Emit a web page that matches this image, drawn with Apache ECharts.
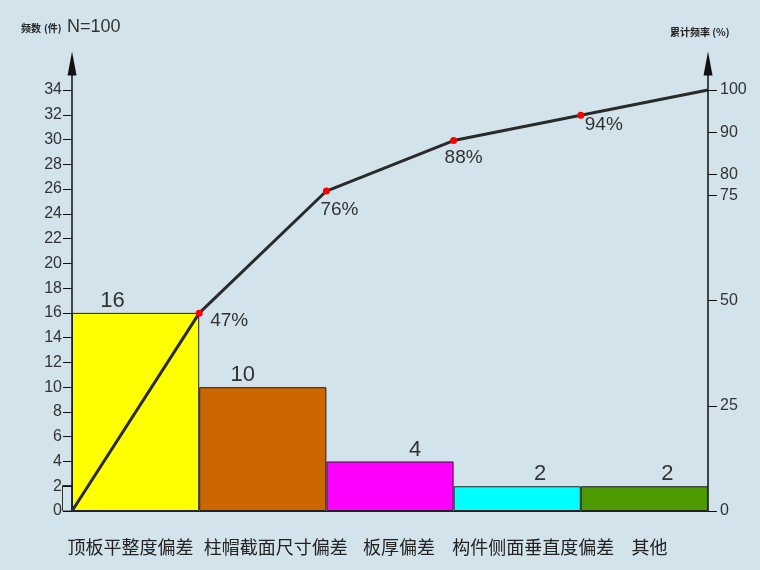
<!DOCTYPE html>
<html>
<head>
<meta charset="utf-8">
<script src="https://cdn.jsdelivr.net/npm/echarts@6/dist/echarts.min.js"></script>
<style>html,body{margin:0;padding:0;background:#D2E3EC;}#c{width:760px;height:570px;}</style>
</head>
<body>
<div id="c"></div>
<script>
// ---- data ----
const categories = ['顶板平整度偏差', '柱帽截面尺寸偏差', '板厚偏差', '构件侧面垂直度偏差', '其他'];
const counts = [16, 10, 4, 2, 2];
const cumulativePct = [47, 76, 88, 94, 100];
const leftTicks = [0, 2, 4, 6, 8, 10, 12, 14, 16, 18, 20, 22, 24, 26, 28, 30, 32, 34];
const rightTicks = [0, 25, 50, 75, 80, 90, 100];

// ---- styles ----
const barColors = ['#FFFF00', '#CC6600', '#FF00FF', '#00FFFF', '#4C9A00'];
const barLabelOffsets = [[-23, 0], [-20, 0], [25, 0], [23, 0], [23, 0]];
const pctLabelOffsets = [[30, 8], [13, 19], [10, 17], [23, 10], [0, 0]];
// padding [top, right, bottom, left] used to nudge each category label horizontally
const catLabelPadding = [[0, 10, 0, 0], [0, 0, 0, 26], [0, 0, 0, 18], [0, 0, 0, 32], [0, 0, 0, 10]];
const NUM_FONT = '"Liberation Sans", sans-serif';
const CJK_FONT = '"Noto Sans CJK SC", sans-serif';

const chart = echarts.init(document.getElementById('c'), null, {renderer: 'canvas'});

const barData = counts.map((v, i) => ({
  value: v,
  itemStyle: {color: barColors[i]},
  label: {offset: barLabelOffsets[i]}
}));

const lineData = [{value: [0, 0], symbolSize: 0, label: {show: false}}].concat(
  cumulativePct.map((p, i) => ({
    value: [i + 1, p],
    symbolSize: i === cumulativePct.length - 1 ? 0 : 7,
    label: {show: i !== cumulativePct.length - 1, offset: pctLabelOffsets[i]}
  }))
);

const catRich = {};
catLabelPadding.forEach((pad, i) => {
  catRich['r' + i] = {fontSize: 18, color: '#222', fontFamily: CJK_FONT, padding: pad};
});

const option = {
  backgroundColor: '#D2E3EC',
  animation: false,
  grid: {left: 72, right: 52, top: 63.5, bottom: 59},
  xAxis: [
    {
      type: 'category',
      data: categories,
      boundaryGap: true,
      axisLine: {lineStyle: {color: '#222', width: 1}},
      axisTick: {show: false},
      axisLabel: {
        interval: 0, margin: 27, fontSize: 18, color: '#222', fontFamily: CJK_FONT,
        formatter: (v, i) => '{r' + i + '|' + v + '}',
        rich: catRich
      }
    },
    {
      type: 'value', min: 0, max: 5, show: false
    }
  ],
  yAxis: [
    {
      type: 'value',
      min: 0,
      max: 34 * 447.5 / 421,
      interval: 2,
      splitLine: {show: false},
      axisLine: {show: true, lineStyle: {color: '#111', width: 1.5}, symbol: ['none', 'triangle'], symbolSize: [9, 24]},
      axisTick: {show: true, length: 9, lineStyle: {color: '#111'}, customValues: leftTicks},
      axisLabel: {margin: 10, fontSize: 16, color: '#333', fontFamily: NUM_FONT, customValues: leftTicks}
    },
    {
      type: 'value',
      position: 'right',
      min: 0,
      max: 100 * 447.5 / 421,
      splitLine: {show: false},
      axisLine: {show: true, lineStyle: {color: '#111', width: 1.5}, symbol: ['none', 'triangle'], symbolSize: [9, 24]},
      axisTick: {show: true, length: 9, lineStyle: {color: '#111'}, customValues: rightTicks},
      axisLabel: {margin: 12, fontSize: 16, color: '#333', fontFamily: NUM_FONT, customValues: rightTicks}
    }
  ],
  series: [
    {
      type: 'bar',
      xAxisIndex: 0,
      yAxisIndex: 0,
      data: barData,
      barWidth: '100%',
      itemStyle: {borderColor: '#222', borderWidth: 1},
      label: {show: true, position: 'top', distance: 1, fontSize: 22, color: '#333', fontFamily: NUM_FONT}
    },
    {
      type: 'line',
      xAxisIndex: 1,
      yAxisIndex: 1,
      data: lineData,
      z: 5,
      symbol: 'circle',
      itemStyle: {color: '#FF0000'},
      lineStyle: {color: '#2a2a2a', width: 3},
      label: {
        show: true, position: 'inside', align: 'center', verticalAlign: 'middle',
        formatter: p => p.value[1] + '%',
        fontSize: 19, color: '#333', fontFamily: NUM_FONT
      }
    }
  ],
  graphic: [
    {type: 'rect', shape: {x: 62.5, y: 485.5, width: 9.5, height: 25.5}, style: {fill: 'none', stroke: '#333', lineWidth: 1}},
    {type: 'text', x: 21, y: 28, style: {text: '频数', fontSize: 10, fontWeight: 'bold', fill: '#222', fontFamily: CJK_FONT, verticalAlign: 'middle'}},
    {type: 'text', x: 44, y: 28, style: {text: '(件)', fontSize: 10, fontWeight: 'bold', fill: '#222', fontFamily: CJK_FONT, verticalAlign: 'middle'}},
    {type: 'text', x: 67, y: 27, style: {text: 'N=100', fontSize: 18, fill: '#333', fontFamily: NUM_FONT, verticalAlign: 'middle'}},
    {type: 'text', x: 670, y: 32, style: {text: '累计频率 (%)', fontSize: 10, fontWeight: 'bold', fill: '#222', fontFamily: CJK_FONT, verticalAlign: 'middle'}}
  ]
};

chart.setOption(option);
</script>
</body>
</html>
